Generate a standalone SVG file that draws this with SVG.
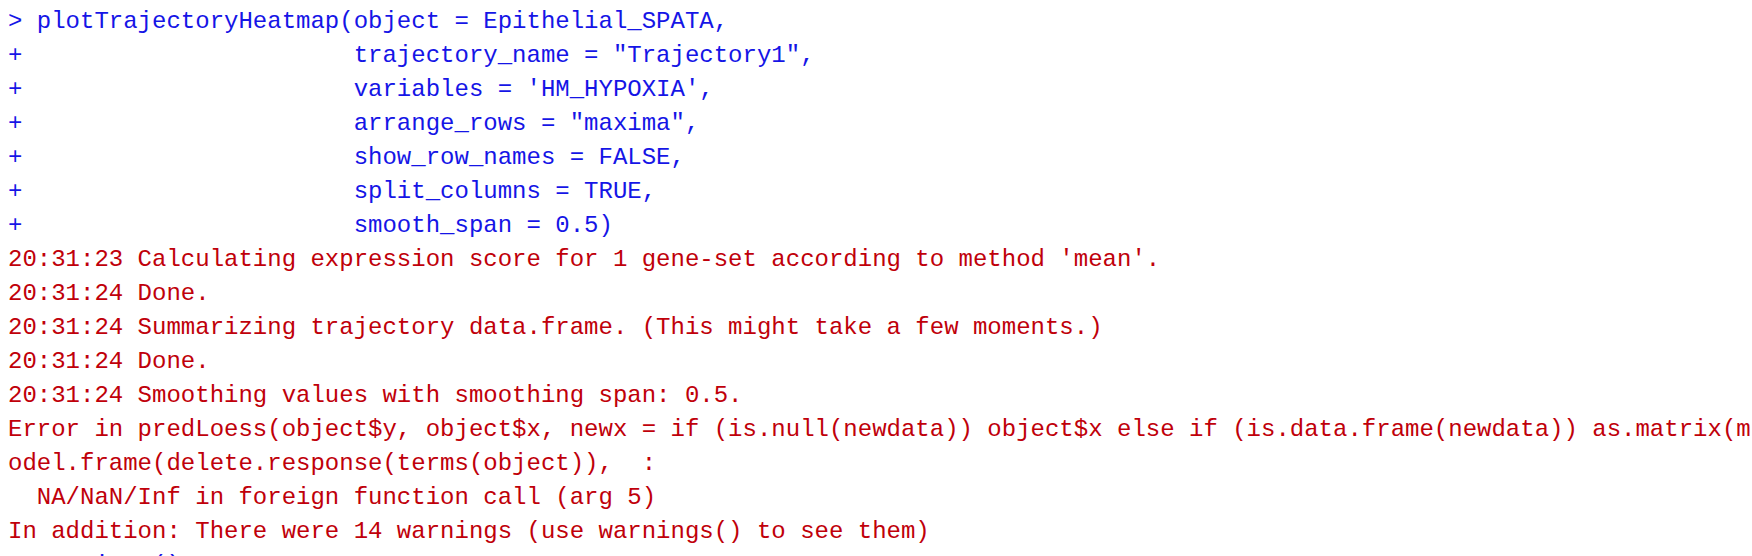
<svg xmlns="http://www.w3.org/2000/svg" width="1752" height="556" viewBox="0 0 1752 556">
<style>
text{font-family:"Liberation Mono","DejaVu Sans Mono",monospace;font-size:24px;white-space:pre}
.b{fill:#1515e6}.r{fill:#c0000a}
</style>
<rect width="1752" height="556" fill="#fff"/>
<g id="console" xml:space="preserve">
<text class="b" x="8" y="28">&gt; plotTrajectoryHeatmap(object = Epithelial_SPATA,</text>
<text class="b" x="8" y="62">+                       trajectory_name = "Trajectory1",</text>
<text class="b" x="8" y="96">+                       variables = 'HM_HYPOXIA',</text>
<text class="b" x="8" y="130">+                       arrange_rows = "maxima",</text>
<text class="b" x="8" y="164">+                       show_row_names = FALSE,</text>
<text class="b" x="8" y="198">+                       split_columns = TRUE,</text>
<text class="b" x="8" y="232">+                       smooth_span = 0.5)</text>
<text class="r" x="8" y="266">20:31:23 Calculating expression score for 1 gene-set according to method 'mean'.</text>
<text class="r" x="8" y="300">20:31:24 Done.</text>
<text class="r" x="8" y="334">20:31:24 Summarizing trajectory data.frame. (This might take a few moments.)</text>
<text class="r" x="8" y="368">20:31:24 Done.</text>
<text class="r" x="8" y="402">20:31:24 Smoothing values with smoothing span: 0.5.</text>
<text class="r" x="8" y="436">Error in predLoess(object$y, object$x, newx = if (is.null(newdata)) object$x else if (is.data.frame(newdata)) as.matrix(m</text>
<text class="r" x="8" y="470">odel.frame(delete.response(terms(object)),  :</text>
<text class="r" x="8" y="504">  NA/NaN/Inf in foreign function call (arg 5)</text>
<text class="r" x="8" y="538">In addition: There were 14 warnings (use warnings() to see them)</text>
<text class="b" x="8" y="572">&gt; warnings()</text>
</g>
</svg>
